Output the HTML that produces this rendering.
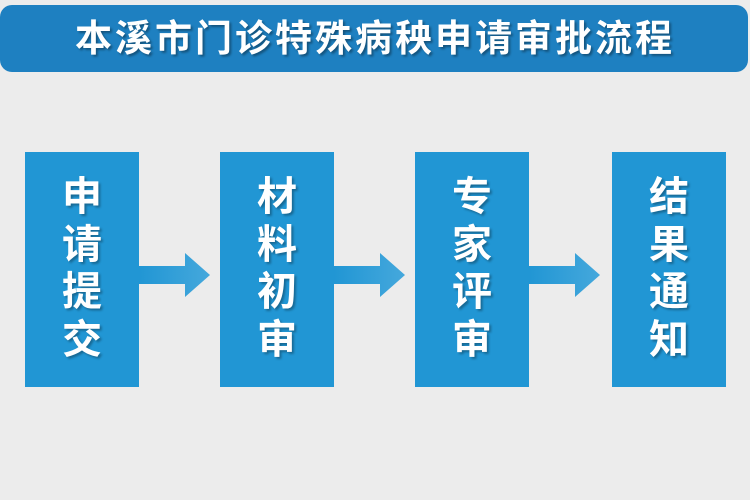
<!DOCTYPE html>
<html><head><meta charset="utf-8"><style>
body{margin:0;width:750px;height:500px;background:#ececec;position:relative;overflow:hidden;font-family:"Liberation Sans","Noto Sans CJK SC",sans-serif}
.banner{position:absolute;left:0;top:5px;width:748px;height:67px;background:#1e80c1;border-radius:12px}
.title{position:absolute;left:0;top:5px;width:750px;height:67px;line-height:67px;text-align:center;color:#fff;font-weight:bold;font-size:37px;letter-spacing:3px;text-shadow:2px 2px 2px rgba(0,0,0,.35)}
.box{position:absolute;top:152px;width:114px;height:235px;background:#2196d4}
.box div{position:absolute;left:0;top:22px;width:114px;text-align:center;color:#fff;font-weight:bold;font-size:40px;line-height:47.5px;text-shadow:2px 2px 2px rgba(0,0,0,.3)}
.arr{position:absolute;top:253px;width:72px;height:44px}
</style></head><body>
<div class="banner"></div>
<div class="title">本溪市门诊特殊病秧申请审批流程</div>
<div class="box" style="left:25px"><div>申<br>请<br>提<br>交</div></div>
<div class="box" style="left:220px"><div>材<br>料<br>初<br>审</div></div>
<div class="box" style="left:415px"><div>专<br>家<br>评<br>审</div></div>
<div class="box" style="left:612px"><div>结<br>果<br>通<br>知</div></div>
<svg class="arr" style="left:139px" viewBox="0 0 72 44"><defs><linearGradient id="g" x1="0" x2="1"><stop offset="0" stop-color="#2196d4"/><stop offset="1" stop-color="#45a8dc"/></linearGradient></defs><path d="M0 13H46V0L71 22L46 44V31H0Z" fill="url(#g)"/></svg>
<svg class="arr" style="left:334px" viewBox="0 0 72 44"><path d="M0 13H46V0L71 22L46 44V31H0Z" fill="url(#g)"/></svg>
<svg class="arr" style="left:529px" viewBox="0 0 72 44"><path d="M0 13H46V0L71 22L46 44V31H0Z" fill="url(#g)"/></svg>
</body></html>
